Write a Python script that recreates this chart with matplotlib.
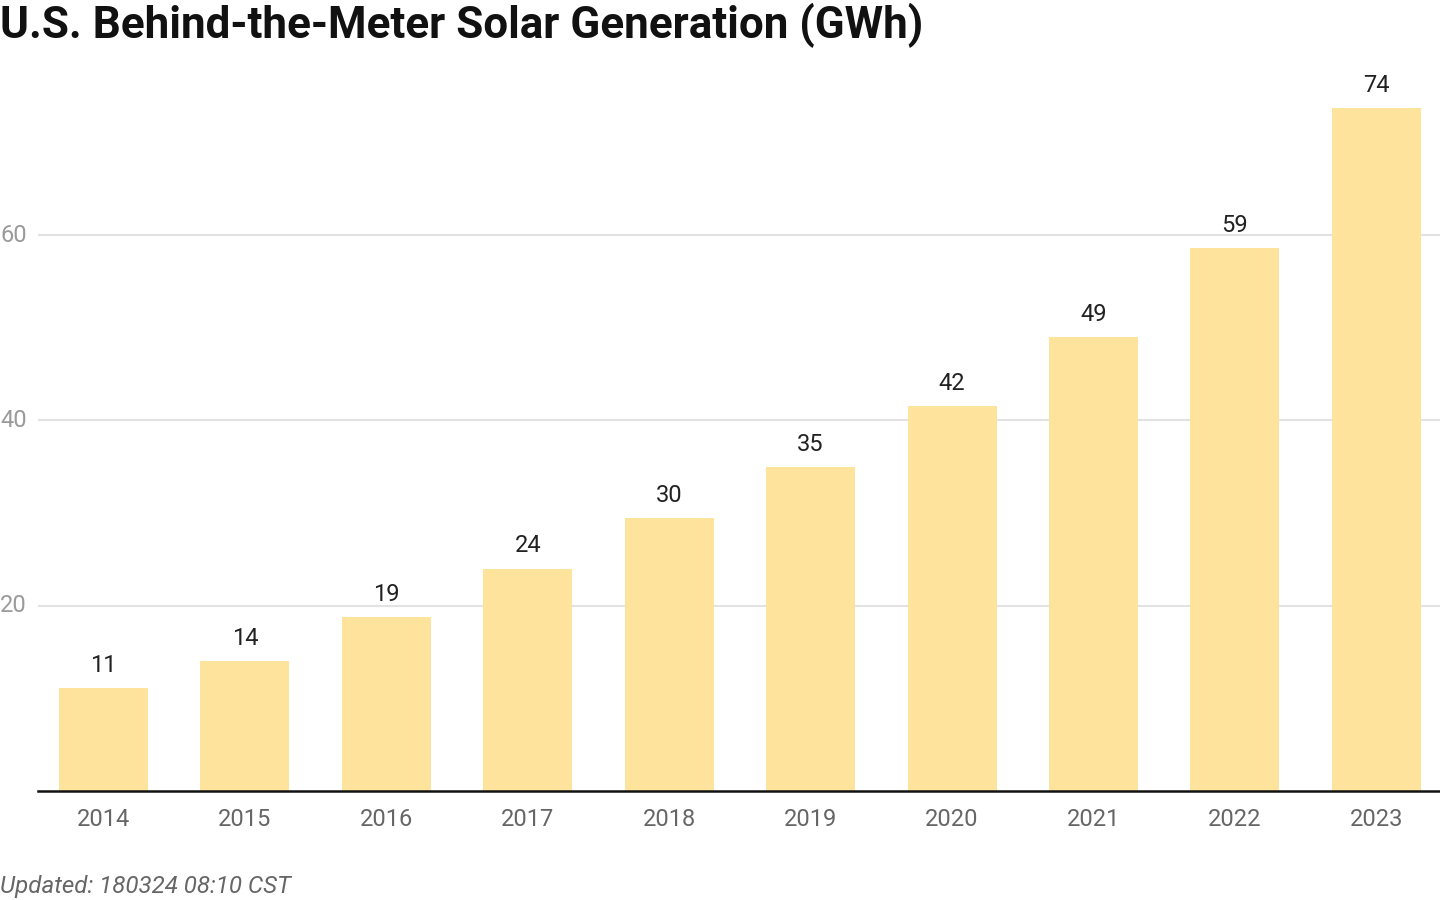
import numpy as np
import matplotlib.pyplot as plt

plt.rcParams['font.family'] = ['Roboto', 'DejaVu Sans']

# data
years = ['2014', '2015', '2016', '2017', '2018', '2019', '2020', '2021', '2022', '2023']
generation = [11.1, 14.0, 18.8, 24.0, 29.5, 35.0, 41.5, 49.0, 58.6, 73.7]
labels = ['11', '14', '19', '24', '30', '35', '42', '49', '59', '74']
yticks = [20, 40, 60]

fig = plt.figure(figsize=(14.4, 9), dpi=100)
ax = fig.add_axes([38 / 1440, 1 - 791 / 900, 1 - 38 / 1440, (791 - 96) / 900])

x = np.arange(len(years))
ax.bar(x, generation, width=0.63, color='#fde39b', zorder=2)
for xi, v, lab in zip(x, generation, labels):
    ax.annotate(lab, (xi, v), xytext=(0, 8), textcoords='offset points',
                ha='center', va='bottom', fontsize=17, color='#222222')

ax.set_xlim(-0.463, 9.45)
ax.set_ylim(0, 75)
ax.set_xticks(x)
ax.set_xticklabels(years, fontsize=17, color='#666666')
ax.tick_params(axis='x', length=0, pad=12)
ax.set_yticks(yticks)
ax.set_yticklabels([])
ax.tick_params(axis='y', length=0)
# y labels sit flush with the left edge of the figure
for t in yticks:
    ax.text(-38 / 1402, t, str(t), transform=ax.get_yaxis_transform(),
            ha='left', va='center', fontsize=17, color='#9a9a9a')

ax.grid(axis='y', color='#e2e2e2', linewidth=1.5, zorder=0)
for s in ['top', 'right', 'left']:
    ax.spines[s].set_visible(False)
ax.spines['bottom'].set_color('#111111')
ax.spines['bottom'].set_linewidth(1.8)
ax.spines['bottom'].set_zorder(3)

fig.text(0.0, 1 - 25 / 900, 'U.S. Behind-the-Meter Solar Generation (GWh)',
         fontsize=31.7, fontweight='bold', color='#111111', ha='left', va='center')
fig.text(0.0, 1 - 886 / 900, 'Updated: 180324 08:10 CST', fontsize=17.4,
         style='italic', color='#666666', ha='left', va='center')

fig.savefig('out.png', dpi=100)
